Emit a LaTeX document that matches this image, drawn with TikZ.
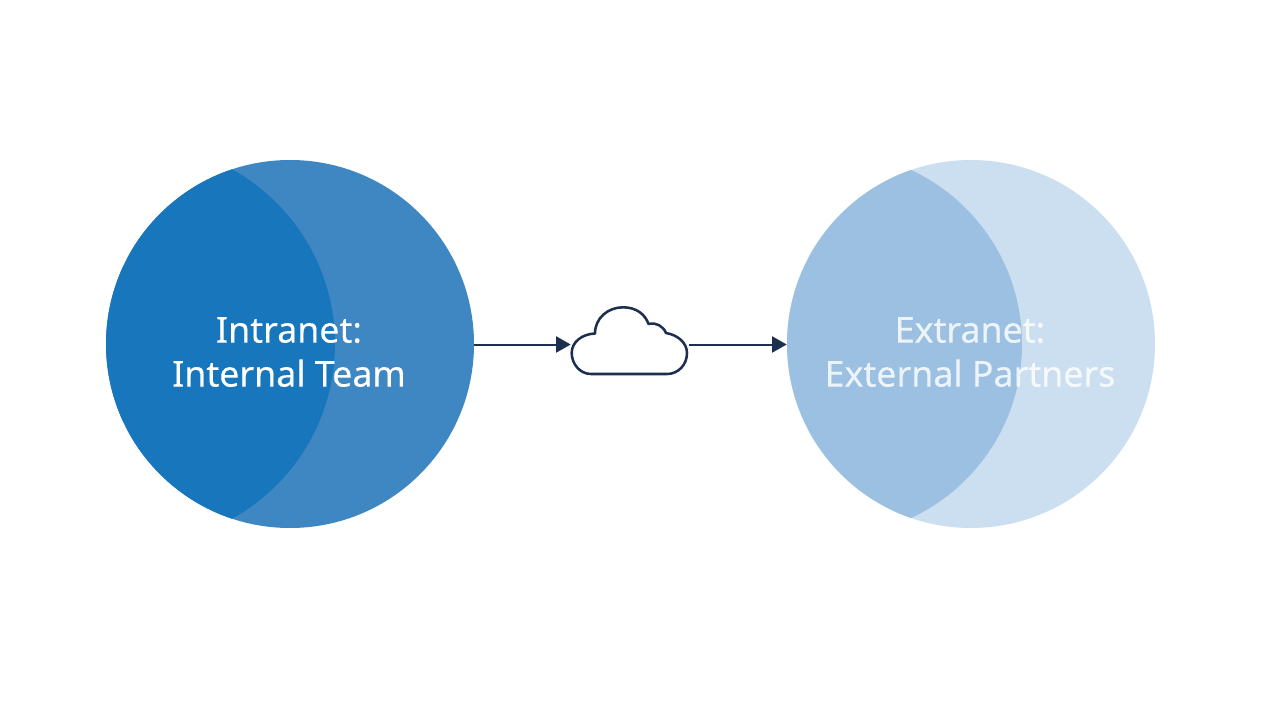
\documentclass[tikz,border=0pt]{standalone}
\usepackage{fontspec}
\setmainfont{Noto Sans}
\usetikzlibrary{arrows.meta}
\definecolor{intraouter}{HTML}{3F87C2}
\definecolor{intrainner}{HTML}{1877BC}
\definecolor{extraouter}{HTML}{CBDFF0}
\definecolor{extrainner}{HTML}{9BC0E2}
\definecolor{linknavy}{HTML}{1C2F4F}
\tikzset{
  zone/.style={circle,draw=none,inner sep=0pt,minimum size=276pt},
  zonetext/.style={text=white,align=center,inner sep=0pt,font=\fontsize{26.8pt}{33pt}\selectfont\addfontfeature{FakeBold=0.2}},
  link/.style={draw=linknavy,line width=1.5pt,-{Triangle[length=11pt,width=12pt,fill=linknavy]}},
  cloudline/.style={draw=linknavy,line width=1.9pt,fill=white,line join=round}
}
\begin{document}
\begin{tikzpicture}[x=0.75pt,y=-0.75pt]
\useasboundingbox (0,0) rectangle (1280,720);
\fill[white] (0,0) rectangle (1280,720);
\node[zone,fill=intraouter] (intra) at (290,344) {};
\begin{scope}
  \clip (290,344) circle [radius=138pt];
  \fill[intrainner] (135.4,344) circle [radius=149.7pt];
\end{scope}
\node[zonetext] (intralabel) at (289,352) {Intranet:\\Internal Team};
\node[zone,fill=extraouter] (extra) at (971,344) {};
\begin{scope}
  \clip (971,344) circle [radius=138pt];
  \fill[extrainner] (830.2,344) circle [radius=143.85pt];
\end{scope}
\node[zonetext,text opacity=0.82] (extralabel) at (970,352) {Extranet:\\External Partners};
\node[inner sep=0pt,minimum width=88.5pt,minimum height=51pt] (cloud) at (630,340.5) {};
\draw[cloudline] (591,374) .. controls (580,374) and (571.7,364) .. (571.7,353)
  .. controls (571.7,342) and (582,334) .. (595,333.5)
  .. controls (595,318) and (608,307.3) .. (623,307.3)
  .. controls (636,307.3) and (645,314) .. (648.5,324)
  .. controls (656,322) and (663,326) .. (666,333)
  .. controls (678,335) and (687,343) .. (687,353)
  .. controls (687,365) and (678,374) .. (667,374)
  -- cycle;
\draw[link] (intra.east |- 0,344.5) -- (cloud.west |- 0,344.5);
\draw[link] (cloud.east |- 0,344.5) -- (extra.west |- 0,344.5);
\end{tikzpicture}
\end{document}
